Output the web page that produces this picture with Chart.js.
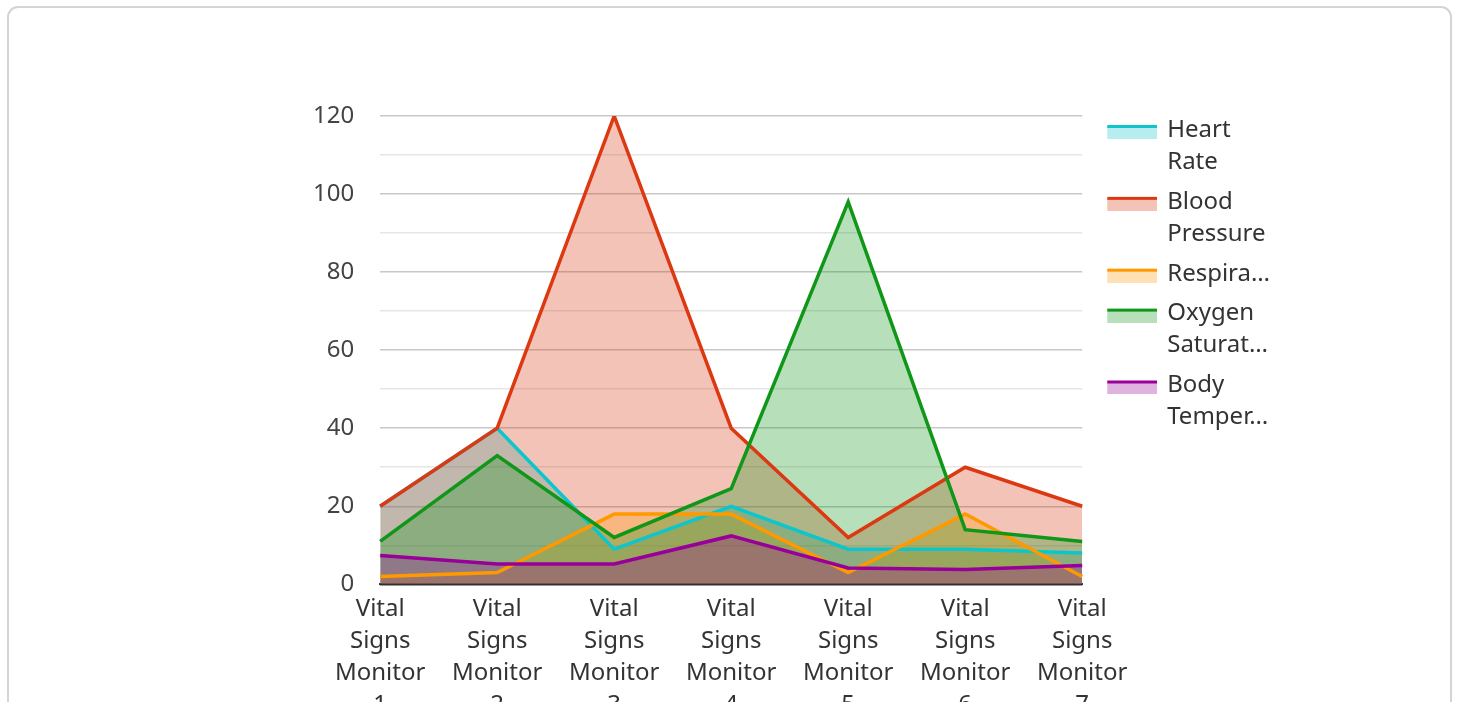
<!DOCTYPE html>
<html>
<head>
<meta charset="utf-8">
<title>Vital Signs Monitors</title>
<script src="https://cdn.jsdelivr.net/npm/chart.js@4.4.1/dist/chart.umd.min.js"></script>
<style>
  html, body { margin: 0; padding: 0; background: #fff; overflow: hidden; }
  .card {
    position: absolute; left: 7px; top: 6px; width: 1445px; height: 760px;
    border: 2px solid #d4d4d4; border-radius: 11px; box-sizing: border-box;
  }
  #vitalsChart { position: absolute; left: 0; top: 0; }
</style>
</head>
<body>
<div class="card"></div>
<canvas id="vitalsChart" width="1458" height="730"></canvas>
<script>
// categories
const monitors = [
  'Vital Signs Monitor 1', 'Vital Signs Monitor 2', 'Vital Signs Monitor 3',
  'Vital Signs Monitor 4', 'Vital Signs Monitor 5', 'Vital Signs Monitor 6',
  'Vital Signs Monitor 7'
];

// series values
const heartRate        = [20, 40, 9, 20, 9, 9, 8];
const bloodPressure    = [20, 40, 120, 40, 12, 30, 20];
const respiratoryRate  = [2, 3, 18, 18, 3, 18, 2];
const oxygenSaturation = [11, 33, 12, 24.5, 98, 14, 11];
const bodyTemperature  = [7.4, 5.2, 5.2, 12.4, 4.2, 3.8, 4.8];

const seriesNames  = ['Heart Rate', 'Blood Pressure', 'Respiratory Rate', 'Oxygen Saturation', 'Body Temperature'];
const seriesColors = ['#0cc6cc', '#dc3912', '#ff9900', '#109618', '#990099'];

// labelled ticks on the value axis (minor gridlines every 10)
const yTickLabels = [0, 20, 40, 60, 80, 100, 120];

const FONT = 'Noto Sans';

function hexToRgba(hex, a) {
  const n = parseInt(hex.slice(1), 16);
  return `rgba(${(n >> 16) & 255}, ${(n >> 8) & 255}, ${n & 255}, ${a})`;
}

// legend marker: thick line on top of a pale swatch.
// the image is wider/taller than the swatch so the swatch sits right of and below the item start
function makeMarker(color) {
  const c = document.createElement('canvas');
  c.width = 69;
  c.height = 18;
  const g = c.getContext('2d');
  g.fillStyle = hexToRgba(color, 0.3);
  g.fillRect(19, 4, 50, 14);
  g.fillStyle = color;
  g.fillRect(19, 4, 50, 3);
  return c;
}

// wrap a legend name word by word, cutting a word that is too wide with an ellipsis
function wrapLegend(name, maxW) {
  const g = document.createElement('canvas').getContext('2d');
  g.font = `24px "${FONT}"`;
  const lines = [];
  for (const word of name.split(' ')) {
    if (g.measureText(word).width <= maxW) { lines.push(word); continue; }
    let w = word;
    while (w.length > 1 && g.measureText(w + '…').width > maxW) w = w.slice(0, -1);
    lines.push(w + '…');
    break;
  }
  return lines;
}

const seriesValues = [heartRate, bloodPressure, respiratoryRate, oxygenSaturation, bodyTemperature];
const markers = seriesColors.map(makeMarker);

const datasets = seriesNames.map((name, i) => ({
  label: name,
  data: seriesValues[i],
  borderColor: seriesColors[i],
  backgroundColor: hexToRgba(seriesColors[i], 0.3),
  borderWidth: 3.5,
  borderJoinStyle: 'miter',
  fill: 'origin',
  pointRadius: 0,
  pointHoverRadius: 0,
  tension: 0,
  order: seriesNames.length - 1 - i   // later series drawn on top
}));

const ctx = document.getElementById('vitalsChart').getContext('2d');
window.vitalsChart = new Chart(ctx, {
  type: 'line',
  data: { labels: monitors, datasets: datasets },
  options: {
    responsive: false,
    animation: false,
    layout: { padding: { top: 110, left: 287, right: 178, bottom: 0 } },
    plugins: {
      tooltip: { enabled: false },
      filler: { drawTime: 'beforeDatasetsDraw' },
      // empty strip above the plot only, so the legend can start a little higher
      title: { display: true, text: ' ', fullSize: false, padding: 0, font: { size: 6, lineHeight: 1 } },
      legend: {
        position: 'right',
        align: 'start',
        fullSize: true,
        labels: {
          usePointStyle: true,
          pointStyleWidth: 65,
          boxHeight: 14,
          padding: 8,
          color: '#333',
          font: { family: FONT, size: 24, lineHeight: 1.33 },
          generateLabels: chart => chart.data.datasets.map((ds, i) => ({
            text: wrapLegend(ds.label, 106),
            pointStyle: markers[i],
            datasetIndex: i,
            hidden: false,
            lineWidth: 0,
            fillStyle: 'transparent',
            strokeStyle: 'transparent',
            fontColor: '#333'
          }))
        }
      }
    },
    scales: {
      x: {
        offset: false,
        grid: { display: false, drawTicks: false },
        border: { display: true, color: '#333', width: 2 },
        ticks: {
          autoSkip: false,
          maxRotation: 0,
          padding: 9,
          color: '#333',
          font: { family: FONT, size: 24, lineHeight: 1.33 },
          callback: (v, i) => monitors[i].split(' ')
        }
      },
      y: {
        min: 0,
        max: 120,
        grid: {
          drawTicks: false,
          lineWidth: 1.5,
          color: c => c.tick.value === 0 ? '#333' : (yTickLabels.includes(c.tick.value) ? '#c8c8c8' : '#e6e6e6')
        },
        border: { display: false },
        ticks: {
          stepSize: 10,
          autoSkip: false,
          padding: 26,
          color: '#444',
          font: { family: FONT, size: 24 },
          callback: v => yTickLabels.includes(v) ? v : ''
        }
      }
    }
  }
});
</script>
</body>
</html>
